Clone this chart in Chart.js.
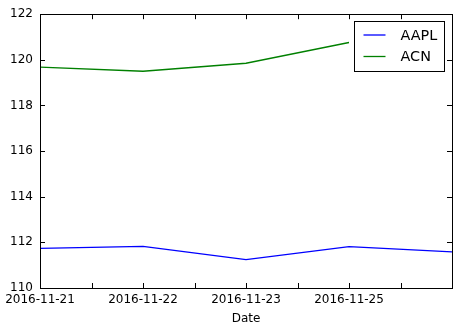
<!DOCTYPE html>
<html>
<head>
<meta charset="utf-8">
<script src="https://cdn.jsdelivr.net/npm/chart.js@4/dist/chart.umd.min.js"></script>
<style>
html,body{margin:0;padding:0;background:#fff;}
canvas{display:block;}
</style>
</head>
<body>
<canvas id="c" width="474" height="332"></canvas>
<script>
const dates = ['2016-11-21','2016-11-22','2016-11-23','2016-11-25','2016-11-28'];
const tickLabels = ['2016-11-21','2016-11-22','2016-11-23','2016-11-25',''];
const aapl = [111.74, 111.82, 111.24, 111.81, 111.58];
const acn = [119.68, 119.50, 119.85, 120.76, null];
const yTicks = [110, 112, 114, 116, 118, 120, 122];

const FONT = "'DejaVu Sans', sans-serif";

const toPts = arr => arr.map((v, i) => ({x: i, y: v}));

const framePlugin = {
  id: 'frame',
  afterDatasetsDraw(chart) {
    const ctx = chart.ctx;
    const a = chart.chartArea;
    const xs = chart.scales.x, ys = chart.scales.y;
    ctx.save();
    ctx.strokeStyle = '#000';
    ctx.lineWidth = 1;
    const L = 5;
    ctx.beginPath();
    xs.ticks.forEach(t => {
      const px = Math.round(xs.getPixelForValue(t.value)) + 0.5;
      ctx.moveTo(px, a.bottom); ctx.lineTo(px, a.bottom - L);
      ctx.moveTo(px, a.top); ctx.lineTo(px, a.top + L);
    });
    ys.ticks.forEach(t => {
      const py = Math.round(ys.getPixelForValue(t.value)) + 0.5;
      ctx.moveTo(a.left, py); ctx.lineTo(a.left + L, py);
      ctx.moveTo(a.right, py); ctx.lineTo(a.right - L, py);
    });
    ctx.stroke();
    ctx.strokeRect(Math.round(a.left) + 0.5, Math.round(a.top) + 0.5,
                   Math.round(a.right - a.left), Math.round(a.bottom - a.top));
    // legend
    const bx = Math.round(a.right) - 97.5, by = Math.round(a.top) + 7.5;
    const bw = 90, bh = 50;
    ctx.fillStyle = '#fff';
    ctx.fillRect(bx, by, bw, bh);
    ctx.strokeRect(bx, by, bw, bh);
    ctx.font = '14.4px ' + FONT;
    ctx.textBaseline = 'middle';
    ctx.textAlign = 'left';
    chart.data.datasets.forEach((ds, i) => {
      const cy = by + 13.5 + i * 21.5;
      ctx.strokeStyle = ds.borderColor;
      ctx.lineWidth = 1.3;
      ctx.beginPath();
      ctx.moveTo(bx + 9, cy); ctx.lineTo(bx + 31, cy);
      ctx.stroke();
      ctx.fillStyle = '#000';
      ctx.fillText(ds.label, bx + 46, cy + 1);
    });
    ctx.restore();
  }
};

new Chart(document.getElementById('c'), {
  type: 'line',
  data: {
    datasets: [
      {label: 'AAPL', data: toPts(aapl), borderColor: '#0000ff', borderWidth: 1.3, pointRadius: 0, fill: false, tension: 0},
      {label: 'ACN', data: toPts(acn), borderColor: '#008000', borderWidth: 1.3, pointRadius: 0, fill: false, tension: 0, spanGaps: false}
    ]
  },
  options: {
    responsive: false,
    animation: false,
    layout: {padding: {left: 0, right: 22, top: 14, bottom: 0}},
    plugins: {legend: {display: false}, tooltip: {enabled: false}},
    scales: {
      x: {
        type: 'linear', min: 0, max: dates.length - 1,
        grid: {display: false, drawTicks: false},
        border: {display: false},
        afterBuildTicks(scale) {
          const t = [];
          for (let v = 0; v <= dates.length - 1 + 1e-9; v += 0.5) t.push({value: v});
          scale.ticks = t;
        },
        ticks: {
          autoSkip: false, maxRotation: 0, padding: 5, color: '#000',
          font: {family: FONT, size: 12},
          callback: v => Number.isInteger(v) ? tickLabels[v] : ''
        },
        title: {display: true, text: 'Date', color: '#000', font: {family: FONT, size: 12}, padding: {top: 8, bottom: 6}},
        afterFit(scale) { scale.height = 44; }
      },
      y: {
        min: yTicks[0], max: yTicks[yTicks.length - 1],
        grid: {display: false, drawTicks: false},
        border: {display: false},
        afterBuildTicks(scale) { scale.ticks = yTicks.map(v => ({value: v})); },
        ticks: {padding: 7, color: '#000', font: {family: FONT, size: 12}},
        afterFit(scale) { scale.width = 40; }
      }
    }
  },
  plugins: [framePlugin]
});
</script>
</body>
</html>
